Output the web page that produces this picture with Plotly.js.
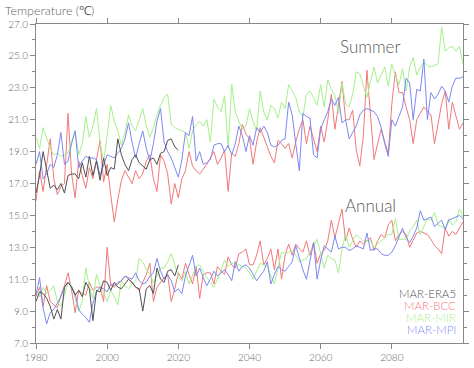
<!DOCTYPE html>
<html>
<head>
<meta charset="utf-8">
<script src="https://cdn.plot.ly/plotly-3.0.1.min.js"></script>
<style>html,body{margin:0;padding:0;background:#fff;}#chart{width:474px;height:368px;}</style>
</head>
<body>
<div id="chart"></div>
<script>
const startYear = 1980;
const years = Array.from({length: 121}, (_, i) => startYear + i);
const yearsEra5 = years.slice(0, 41);

const summerERA5 = [16.4,17.5,19.0,17.8,16.7,16.9,16.6,17.0,16.4,17.5,17.6,17.6,17.3,18.3,17.4,18.7,17.5,18.4,17.2,18.6,
17.5,18.0,17.9,19.8,18.8,18.2,17.8,18.5,18.8,18.3,18.1,17.9,18.5,18.6,18.2,18.9,19.0,19.7,19.8,19.3,19.1];

const summerBCC = [15.9,17.8,16.5,18.2,19.8,17.3,16.3,16.8,17.0,21.4,17.6,16.1,18.4,17.5,16.7,18.0,17.3,18.5,19.7,17.1,
18.2,16.3,14.6,16.0,17.2,17.8,17.4,17.0,17.8,17.3,17.6,18.4,18.8,17.3,16.5,18.8,18.4,17.6,15.7,17.0,
16.1,17.3,17.8,19.0,18.1,17.8,17.6,17.9,18.2,18.6,19.0,18.2,18.6,19.1,16.5,18.9,18.7,19.5,20.7,20.1,
19.8,18.2,19.6,20.5,19.9,19.2,18.7,18.3,19.7,19.5,19.2,19.5,18.6,19.6,20.4,21.0,19.5,20.6,19.8,19.0,
20.6,19.6,21.0,22.6,20.4,21.8,23.4,21.0,21.0,21.6,19.1,18.1,20.0,24.1,21.0,18.5,19.5,20.4,19.6,18.9,
22.0,24.0,22.7,22.7,21.8,21.0,19.5,21.0,21.4,21.8,21.5,21.3,19.5,20.8,22.0,22.8,20.4,22.1,21.2,20.4,20.8];

const summerMIR = [19.9,19.2,20.5,19.9,19.2,18.8,18.9,18.7,18.8,18.9,19.6,20.3,18.8,19.5,21.2,19.9,20.6,21.7,19.6,18.4,
20.0,21.9,20.9,20.3,19.4,20.2,21.3,20.6,20.3,21.0,21.7,20.6,19.9,20.5,21.3,21.9,22.4,22.6,20.7,20.5,
20.4,20.3,20.2,19.2,20.3,20.7,20.9,20.6,21.0,19.6,22.3,21.8,21.5,22.5,19.2,23.2,21.5,20.9,20.4,20.6,
21.7,20.9,20.3,22.8,21.5,21.0,21.9,21.7,21.1,22.1,21.7,23.2,22.8,22.4,21.5,21.2,22.6,22.8,22.4,21.9,
23.2,21.8,23.5,22.9,22.5,21.4,23.3,22.0,21.8,22.6,24.0,23.9,23.1,22.4,23.4,24.3,23.3,23.8,24.3,23.1,
24.5,23.8,23.2,24.2,22.8,24.3,24.9,23.8,24.3,24.6,24.4,24.3,24.4,24.5,26.8,25.3,25.5,25.6,25.3,25.6,24.5];

const summerMPI = [18.2,19.0,17.3,17.6,18.2,18.0,18.8,20.2,18.2,18.4,19.5,20.3,18.0,18.4,18.7,18.6,18.6,18.5,17.5,18.2,
18.8,18.7,18.6,18.9,19.2,19.8,20.8,19.6,18.6,19.5,20.3,19.2,18.4,19.5,20.9,21.7,19.6,19.0,18.6,18.0,
17.4,18.5,20.2,20.0,21.2,18.4,19.0,18.2,18.3,18.5,19.4,19.5,19.5,19.0,19.4,18.8,19.5,20.6,20.0,19.0,
20.0,19.4,20.5,20.2,20.6,20.2,19.4,19.3,19.4,19.7,19.8,22.1,21.3,19.5,17.8,21.4,21.2,21.1,18.8,18.6,
20.4,21.0,21.5,22.3,21.9,22.4,20.8,21.0,19.8,20.2,20.6,21.3,21.6,21.7,21.6,21.5,21.2,20.5,19.5,18.7,
21.0,20.6,21.2,21.8,23.6,23.3,21.0,22.9,22.8,24.8,21.0,22.7,22.3,22.6,23.1,22.8,22.1,23.1,23.6,23.6,23.7];

const annualERA5 = [9.6,10.2,10.1,9.8,9.3,8.5,9.1,8.5,10.5,10.8,10.5,10.0,10.3,9.9,10.8,10.4,8.4,10.3,10.2,10.9,
10.8,10.3,10.8,10.5,10.4,10.7,11.0,10.8,10.5,10.4,9.0,10.4,10.6,10.1,11.7,11.0,10.8,11.5,11.6,11.2,11.9];

const annualBCC = [9.9,10.5,9.3,10.6,9.6,9.4,9.2,10.0,10.6,11.4,10.3,8.9,10.3,10.1,10.0,10.8,10.3,10.5,10.5,9.6,
13.0,10.6,10.5,10.7,10.9,11.2,11.0,10.8,10.5,10.3,10.8,11.3,12.0,9.6,10.5,10.8,11.1,11.3,9.6,10.4,
11.4,11.0,12.0,11.3,10.7,11.8,9.8,11.3,11.4,11.4,10.7,11.8,11.5,11.3,12.4,11.9,11.7,12.6,12.7,12.9,
11.9,11.9,12.5,13.4,11.9,12.3,12.9,11.6,12.9,11.0,12.5,13.2,12.5,13.2,12.9,12.7,13.4,12.5,13.3,12.0,
12.6,12.8,13.4,14.7,13.6,14.5,15.4,13.4,14.2,13.5,13.0,13.4,13.2,13.4,13.6,12.8,13.4,13.8,13.6,14.4,
14.7,13.4,13.8,14.0,13.8,13.0,13.5,13.9,14.0,13.9,13.8,13.5,13.1,12.9,12.6,14.2,13.7,14.0,13.8,14.2,14.6];

const annualMIR = [10.3,9.9,10.5,10.1,10.3,10.6,9.6,9.3,10.0,10.8,10.6,9.8,9.0,9.6,11.7,10.5,9.8,11.3,10.6,10.2,
9.6,10.3,9.9,9.4,10.9,10.6,10.4,10.7,10.9,12.3,12.1,11.6,11.3,10.8,11.2,11.7,11.7,12.1,12.6,11.9,
11.1,10.9,11.5,10.7,11.2,11.8,11.9,11.5,11.1,10.8,10.5,11.0,11.5,12.2,11.8,12.0,12.0,11.9,11.8,11.7,
11.4,11.0,11.5,12.0,11.9,11.8,11.2,10.7,11.7,12.7,12.6,12.7,12.8,12.5,12.1,12.2,12.3,12.7,13.1,13.5,
12.6,11.7,12.5,12.3,12.2,11.4,12.9,13.8,13.0,13.4,13.8,13.6,13.4,13.4,13.4,13.0,13.2,13.4,13.6,13.8,
13.8,14.8,13.5,13.5,13.5,14.0,14.3,14.7,13.8,14.3,14.8,14.7,15.2,14.4,14.3,14.2,14.8,14.4,14.6,15.4,14.9];

const annualMPI = [10.0,11.1,9.2,8.2,8.9,9.1,9.5,9.9,10.5,10.8,10.5,10.1,9.1,8.8,8.6,8.3,9.5,10.2,10.5,10.4,
10.2,10.7,10.6,10.8,10.9,11.2,11.1,11.0,11.4,10.9,10.7,10.8,11.2,11.4,12.3,11.5,11.0,11.3,10.9,10.2,
10.4,10.1,11.2,11.8,12.5,11.2,11.7,11.1,10.6,11.0,11.5,11.2,11.4,11.6,11.3,10.9,12.1,11.5,11.8,11.9,
11.7,11.3,10.9,11.2,11.5,12.1,10.7,11.3,11.8,11.6,11.5,11.8,12.1,13.1,12.3,11.6,11.0,12.2,13.3,11.0,
12.2,13.1,12.9,12.7,13.7,12.9,13.0,13.0,12.8,12.9,13.1,13.0,12.9,13.9,12.8,12.9,12.9,12.6,12.5,12.5,
12.7,13.1,13.6,14.2,13.6,13.3,13.7,14.2,15.3,14.7,14.8,14.9,14.3,14.5,14.7,14.1,14.7,14.8,14.9,15.0,14.8];

const seriesNames = ['MAR-ERA5', 'MAR-BCC', 'MAR-MIR', 'MAR-MPI'];
const seriesColors = ['#505050', '#f27878', '#a6f08a', '#7c88f2'];
const groupLabels = ['Summer', 'Annual'];
const yTickVals = [7, 9, 11, 13, 15, 17, 19, 21, 23, 25, 27];
const xTickVals = [1980, 2000, 2020, 2040, 2060, 2080];

const FONT = 'Lato, "Open Sans", sans-serif';
const traces = [];
function add(x, y, idx) {
  traces.push({x: x, y: y, type: 'scatter', mode: 'lines', name: seriesNames[idx],
    line: {color: seriesColors[idx], width: 1}, showlegend: false, hoverinfo: 'skip'});
}
add(years, summerBCC, 1);
add(years, summerMIR, 2);
add(years, summerMPI, 3);
add(yearsEra5, summerERA5, 0);
add(years, annualBCC, 1);
add(years, annualMIR, 2);
add(years, annualMPI, 3);
add(yearsEra5, annualERA5, 0);

const annotations = [
  {text: groupLabels[0], x: 2074, y: 25.62, xref: 'x', yref: 'y', showarrow: false,
   font: {family: FONT, size: 17, color: '#5a5a5a', weight: 300}},
  {text: groupLabels[1], x: 2074, y: 15.62, xref: 'x', yref: 'y', showarrow: false,
   font: {family: FONT, size: 17, color: '#5a5a5a', weight: 300}}
];
const legendY = [10.1, 9.35, 8.6, 7.85];
seriesNames.forEach((n, i) => {
  annotations.push({text: n, x: 2098.4, y: legendY[i], xref: 'x', yref: 'y', xanchor: 'right',
    yanchor: 'middle', showarrow: false, borderpad: 0,
    font: {family: FONT, size: 11.5, color: seriesColors[i], weight: 300}});
});

const axisCommon = {
  showline: true, linecolor: '#888', linewidth: 1, mirror: 'ticks', ticks: 'outside',
  tickcolor: '#888', ticklen: 5, showgrid: false, zeroline: false,
  tickfont: {family: FONT, size: 10, color: '#666', weight: 300}
};

const layout = {
  width: 474, height: 368,
  margin: {l: 36, r: 11, t: 24, b: 25},
  paper_bgcolor: '#fff', plot_bgcolor: '#fff',
  title: {text: 'Temperature (℃)', x: 0.01, xref: 'container', xanchor: 'left',
          y: 0.972, yref: 'container', yanchor: 'middle',
          font: {family: FONT, size: 12.5, color: '#666', weight: 300}},
  xaxis: Object.assign({}, axisCommon, {range: [1980, 2100], tickvals: xTickVals, ticktext: xTickVals.map(String)}),
  yaxis: Object.assign({}, axisCommon, {range: [7, 27], tickvals: yTickVals, tickformat: '.1f',
    minor: {dtick: 1, tick0: 7, ticks: 'outside', ticklen: 3, tickcolor: '#888', showgrid: false}}),
  annotations: annotations,
  showlegend: false
};

Plotly.newPlot('chart', traces, layout, {displayModeBar: false, staticPlot: true});
</script>
</body>
</html>
